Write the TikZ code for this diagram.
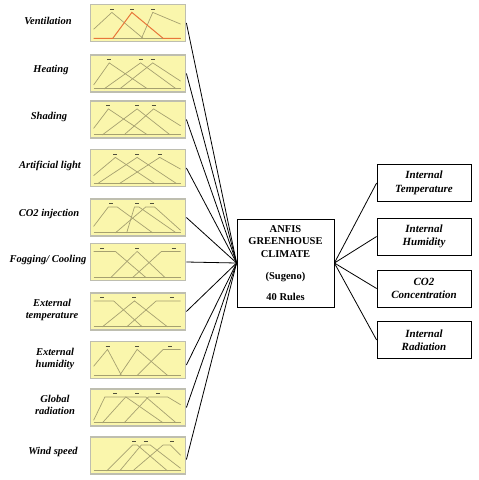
\documentclass[tikz,border=0pt]{standalone}
\usepackage{fontspec}
\setmainfont{Liberation Serif}
\usetikzlibrary{calc}
\definecolor{mfyel}{RGB}{250,246,172}
\definecolor{mfedge}{RGB}{190,190,176}
\definecolor{mfl}{RGB}{165,160,112}
\definecolor{mfor}{RGB}{232,118,58}
\definecolor{mflabc}{RGB}{80,80,60}
\newcommand\mfplot[2]{\begin{scope}[shift={($(#1.south west)+(4pt,4pt)$)},x=87pt,y=26pt]\draw[mfbase](0,0)--(1,0);#2\end{scope}}
\newcommand\mk[1]{\draw[mflabc,line width=0.9pt] (#1,1.12) ++(-2pt,0) -- ++(4pt,0);}
\begin{document}
\begin{tikzpicture}[x=1pt,y=-1pt,
  inbox/.style={draw=mfedge, fill=mfyel, line width=1.8pt, minimum width=95pt, minimum height=37pt, inner sep=0pt},
  lab/.style={font=\fontsize{10.5}{11.5}\selectfont\bfseries\itshape, align=center},
  outbox/.style={draw=black, line width=0.8pt, minimum width=94pt, minimum height=37pt, inner sep=0pt, align=center, font=\fontsize{11}{13.5}\selectfont\bfseries\itshape},
  cbox/.style={draw=black, line width=0.8pt, minimum width=97pt, minimum height=88pt, inner sep=0pt, align=center, font=\fontsize{10.5}{12.5}\selectfont\bfseries},
  conn/.style={draw=black, line width=0.8pt},
  mfline/.style={draw=mfl, line width=0.7pt},
  mforange/.style={draw=mfor, line width=1pt},
  mfbase/.style={draw=mfl, line width=1pt}]
\useasboundingbox (0,0) rectangle (479,480);

% input panels
\node[inbox] (b1) at (138,23) {};
\node[inbox] (b2) at (138,73.5) {};
\node[inbox] (b3) at (138,119.5) {};
\node[inbox] (b4) at (138,168) {};
\node[inbox] (b5) at (138,217.5) {};
\node[inbox] (b6) at (138,262) {};
\node[inbox] (b7) at (138,311.5) {};
\node[inbox] (b8) at (138,360) {};
\node[inbox] (b9) at (138,407.5) {};
\node[inbox] (b10) at (138,455.5) {};

\mfplot{b1}{\draw[mfline] (0,0.35)--(0.21,1)--(0.57,0);
  \draw[mfline] (0.55,0)--(0.68,1)--(1,0.55);
  \draw[mforange] (0,0)--(0.22,0)--(0.44,1)--(0.8,0)--(1,0);
  \mk{0.21}\mk{0.44}\mk{0.68}}
\mfplot{b2}{\draw[mfline] (0,0.15)--(0.18,1)--(0.62,0);
  \draw[mfline] (0.12,0)--(0.54,1)--(0.95,0);
  \draw[mfline] (0.3,0)--(0.68,1)--(1,0.3);
  \mk{0.18}\mk{0.54}\mk{0.68}}
\mfplot{b3}{\draw[mfline] (0,0.25)--(0.17,1)--(0.62,0);
  \draw[mfline] (0.1,0)--(0.5,1)--(0.88,0);
  \draw[mfline] (0.35,0)--(0.69,1)--(1,0.35);
  \mk{0.17}\mk{0.5}\mk{0.69}}
\mfplot{b4}{\draw[mfline] (0,0.3)--(0.25,1)--(0.7,0);
  \draw[mfline] (0.05,0)--(0.5,1)--(0.95,0);
  \draw[mfline] (0.3,0)--(0.76,1)--(1,0.55);
  \mk{0.25}\mk{0.5}\mk{0.76}}
\mfplot{b5}{\draw[mfline] (0,0.25)--(0.17,1)--(0.27,1)--(0.68,0);
  \draw[mfline] (0.38,0)--(0.47,1)--(0.52,1)--(0.95,0);
  \draw[mfline] (0.25,0)--(0.6,1)--(0.7,1)--(1,0.1);
  \mk{0.2}\mk{0.5}\mk{0.67}}
\mfplot{b6}{\draw[mfline] (0,1)--(0.25,1)--(0.6,0);
  \draw[mfline] (0.2,0)--(0.5,1)--(0.82,0);
  \draw[mfline] (0.45,0)--(0.78,1)--(1,1);
  \mk{0.1}\mk{0.5}\mk{0.92}}
\mfplot{b7}{\draw[mfline] (0,1)--(0.23,1)--(0.56,0);
  \draw[mfline] (0.1,0)--(0.47,1)--(0.85,0);
  \draw[mfline] (0.38,0)--(0.72,1)--(1,1);
  \mk{0.1}\mk{0.47}\mk{0.9}}
\mfplot{b8}{\draw[mfline] (0,0.35)--(0.16,1)--(0.32,0);
  \draw[mfline] (0.3,0)--(0.5,1)--(0.85,0);
  \draw[mfline] (0.5,0)--(0.8,1)--(1,1);
  \mk{0.16}\mk{0.5}\mk{0.88}}
\mfplot{b9}{\draw[mfline] (0,0.1)--(0.13,1)--(0.37,1)--(0.8,0);
  \draw[mfline] (0.1,0)--(0.37,1)--(0.6,1)--(0.95,0);
  \draw[mfline] (0.35,0)--(0.63,1)--(0.85,1)--(1,0.7);
  \mk{0.25}\mk{0.5}\mk{0.74}}
\mfplot{b10}{\draw[mfline] (0.15,0)--(0.45,1)--(0.5,1)--(0.85,0);
  \draw[mfline] (0.3,0)--(0.55,1)--(0.65,1)--(1,0.1);
  \draw[mfline] (0.45,0)--(0.8,1)--(0.88,1)--(1,0.6);
  \mk{0.47}\mk{0.6}\mk{0.9}}

% input labels
\node[lab] (l1) at (48,21) {Ventilation};
\node[lab] (l2) at (51,70) {Heating};
\node[lab] (l3) at (49,117) {Shading};
\node[lab] (l4) at (50,166) {Artificial light};
\node[lab] (l5) at (49,214) {CO2 injection};
\node[lab] (l6) at (48,260) {Fogging/ Cooling};
\node[lab] (l7) at (52,310) {External\\temperature};
\node[lab] (l8) at (55,359) {External\\humidity};
\node[lab] (l9) at (55,405) {Global\\radiation};
\node[lab] (l10) at (53,452) {Wind speed};

% central box
\node[cbox] (c) at (285.5,263) {ANFIS\\GREENHOUSE\\CLIMATE\\[10pt](Sugeno)\\[8pt]40 Rules};

% output boxes
\node[outbox] (o1) at (424,183) {Internal\\Temperature};
\node[outbox] (o2) at (424,236.5) {Internal\\Humidity};
\node[outbox] (o3) at (424,288.5) {CO2\\Concentration};
\node[outbox] (o4) at (424,340) {Internal\\Radiation};

% connectors
\foreach \b in {b1,b2,b3,b4,b5,b6,b7,b9}{\draw[conn] (\b.east) -- (c.west);}
\draw[conn] ([yshift=-5pt]b8.east) -- (c.west);
\draw[conn] ([yshift=-4pt]b10.east) -- (c.west);
\foreach \o in {o1,o2,o3,o4}{\draw[conn] (c.east) -- (\o.west);}
\end{tikzpicture}
\end{document}
